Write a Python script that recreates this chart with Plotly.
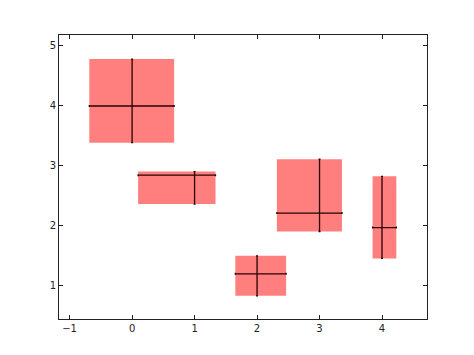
import plotly.graph_objects as go

x = [0, 1, 2, 3, 4]
y = [3.99, 2.84, 1.20, 2.21, 1.97]
xerr_minus = [0.685, 0.904, 0.348, 0.683, 0.151]
xerr_plus = [0.673, 0.335, 0.465, 0.359, 0.229]
yerr_minus = [0.61, 0.48, 0.365, 0.306, 0.514]
yerr_plus = [0.78, 0.06, 0.30, 0.896, 0.852]

xticks = [-1, 0, 1, 2, 3, 4]
yticks = [1, 2, 3, 4, 5]

fig = go.Figure()

for xi, yi, xm, xp, ym, yp in zip(x, y, xerr_minus, xerr_plus, yerr_minus, yerr_plus):
    fig.add_trace(go.Scatter(
        x=[xi - xm, xi + xp, xi + xp, xi - xm, xi - xm],
        y=[yi - ym, yi - ym, yi + yp, yi + yp, yi - ym],
        fill="toself", fillcolor="rgba(255,0,0,0.5)",
        line=dict(width=0), mode="lines", hoverinfo="skip", showlegend=False))

fig.add_trace(go.Scatter(
    x=x, y=y, mode="markers", marker=dict(size=0.1, opacity=0),
    error_x=dict(type="data", symmetric=False, array=xerr_plus, arrayminus=xerr_minus,
                 color="#2a0000", thickness=1.3, width=1),
    error_y=dict(type="data", symmetric=False, array=yerr_plus, arrayminus=yerr_minus,
                 color="#2a0000", thickness=1.3, width=1),
    showlegend=False))

axis_common = dict(showgrid=False, zeroline=False, showline=True, linecolor="#222222",
                   linewidth=1, mirror="allticks", ticks="inside", ticklen=4,
                   tickcolor="#222222", tickfont=dict(family="DejaVu Sans", size=10, color="#222222"))

fig.update_layout(
    width=474, height=355,
    margin=dict(l=59, r=47, t=35, b=36),
    plot_bgcolor="white", paper_bgcolor="white",
    xaxis=dict(range=[-1.17, 4.72], tickvals=xticks, ticktext=["\u22121", "0", "1", "2", "3", "4"], **axis_common),
    yaxis=dict(range=[0.45, 5.17], tickvals=yticks, **axis_common),
)

fig.write_html("out.html")
